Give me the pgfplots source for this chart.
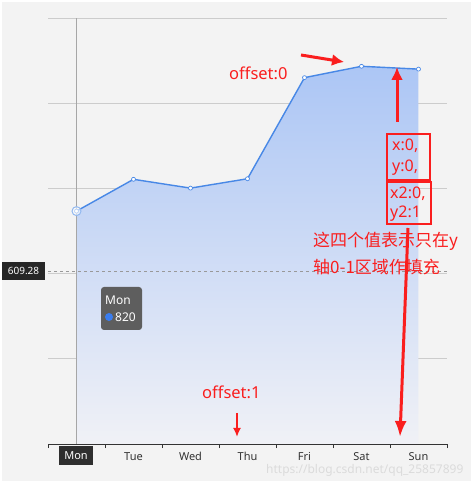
\documentclass[border=0pt]{standalone}
\usepackage{pgfplots}
\pgfplotsset{compat=1.18}
\usepackage{fontspec}
\setmainfont{Noto Sans}
\newfontfamily\cjk{Noto Sans CJK SC}
\usetikzlibrary{arrows.meta}

\definecolor{bg}{RGB}{243,243,243}
\definecolor{linecol}{RGB}{72,136,230}
\definecolor{areatop}{RGB}{172,198,245}
\definecolor{areabot}{RGB}{240,241,246}
\definecolor{note}{RGB}{250,30,30}
\definecolor{gridc}{RGB}{204,204,204}
\definecolor{dotc}{RGB}{58,125,240}

\begin{document}
\begin{tikzpicture}
% canvas in pixel units, y downwards
\begin{scope}[x=1pt,y=-1pt,shift={(0,485pt)}]
  \useasboundingbox (0,0) rectangle (474,485);
  \fill[white] (0,0) rectangle (474,485);
  \fill[bg] (2,2) rectangle (471,481);
\end{scope}

\begin{axis}[
  at={(48pt,41pt)}, anchor=south west,
  scale only axis, width=399pt, height=426pt,
  xmin=-0.5, xmax=6.5, ymin=0, ymax=1500,
  axis x line*=bottom, axis y line*=left,
  x axis line style={draw=black!80,-, line width=0.8pt},
  y axis line style={draw=none},
  ytick={300,600,900,1200,1500}, yticklabels={},
  ytick style={draw=none},
  ymajorgrids, grid style={gridc, line width=0.6pt},
  xtick={-0.5,0.5,...,6.5},
  x tick label as interval,
  xticklabels={{},Tue,Wed,Thu,Fri,Sat,Sun},
  xtick style={draw=black!80, line width=0.8pt},
  tick align=outside, major tick length=4pt,
  xticklabel style={font=\fontsize{11}{13}\selectfont, text=black!80, yshift=-1pt},
  clip=false,
]
  % gradient area
  \addplot[draw=none, top color=areatop, bottom color=areabot]
    coordinates {(0,820) (1,932) (2,901) (3,934) (4,1290) (5,1330) (6,1320)}
    \closedcycle;
  % crosshair
  \draw[black!35, line width=0.6pt] (axis cs:0,0) -- (axis cs:0,1500);
  \draw[black!40, dashed, line width=0.6pt] (axis cs:-0.5,609.28) -- (axis cs:6.5,609.28);
  % line
  \addplot[linecol, line width=1.4pt, mark=*, mark size=2pt,
    mark options={fill=white, draw=linecol, line width=0.7pt}]
    coordinates {(0,820) (1,932) (2,901) (3,934) (4,1290) (5,1330) (6,1320)};
  \addplot[only marks, mark=*, mark size=4.5pt,
    mark options={fill=white, fill opacity=0.6, draw=linecol!60, line width=1pt}]
    coordinates {(0,820)};
\end{axis}

\begin{scope}[x=1pt,y=-1pt,shift={(0,485pt)}]
  % highlighted category label
  \fill[black!82] (59,446) rectangle (93,465);
  \node[white, font=\fontsize{11}{13}\selectfont] at (76,455.5) {Mon};
  % pointer value label
  \fill[black!85] (2,262) rectangle (45,280);
  \node[white, font=\fontsize{10}{12}\selectfont] at (23.5,271) {609.28};
  % tooltip
  \fill[black!63, rounded corners=3pt] (101,287) rectangle (142,330);
  \node[white, anchor=west, inner sep=0pt, font=\fontsize{12}{14}\selectfont] at (105,300) {Mon};
  \fill[dotc] (109,317) circle (4);
  \node[white, anchor=west, inner sep=0pt, font=\fontsize{12}{14}\selectfont] at (115,317) {820};

  % annotations
  \node[note, anchor=west, inner sep=0pt, font=\fontsize{16.5}{18}\selectfont] at (229,73) {offset:0};
  \draw[note, line width=3pt, -{Latex[length=12pt,width=12pt]}] (301,55) -- (344,62);
  \draw[note, line width=3pt, -{Latex[length=13pt,width=12pt]}] (397,122) -- (397,67);
  \draw[note, line width=1.8pt] (387,134) rectangle (430,180);
  \draw[note, line width=1.8pt] (387,182) rectangle (431,224);
  \node[note, anchor=west, inner sep=0pt, font=\fontsize{16}{18}\selectfont] at (392,146) {x:0,};
  \node[note, anchor=west, inner sep=0pt, font=\fontsize{16}{18}\selectfont] at (392,168) {y:0,};
  \node[note, anchor=west, inner sep=0pt, font=\fontsize{16}{18}\selectfont] at (390,194) {x2:0,};
  \node[note, anchor=west, inner sep=0pt, font=\fontsize{16}{18}\selectfont] at (390,214) {y2:1};
  \node[note, anchor=west, inner sep=0pt, font=\cjk\fontsize{17}{19}\selectfont] at (313,241) {这四个值表示只在y};
  \node[note, anchor=west, inner sep=0pt, font=\cjk\fontsize{17}{19}\selectfont] at (313,267) {轴0-1区域作填充};
  \draw[note, line width=3pt, -{Latex[length=16pt,width=12pt]}] (408,228) -- (400,437);
  \node[note, anchor=west, inner sep=0pt, font=\fontsize{16.5}{18}\selectfont] at (202,392) {offset:1};
  \draw[note, line width=2pt, -{Latex[length=9pt,width=8pt]}] (237,413) -- (237,437);
  % watermark
  \node[white!86!black, anchor=west, inner sep=0pt, font=\fontsize{12}{14}\selectfont] at (266,470) {https://blog.csdn.net/qq\_25857899};
\end{scope}
\end{tikzpicture}
\end{document}
